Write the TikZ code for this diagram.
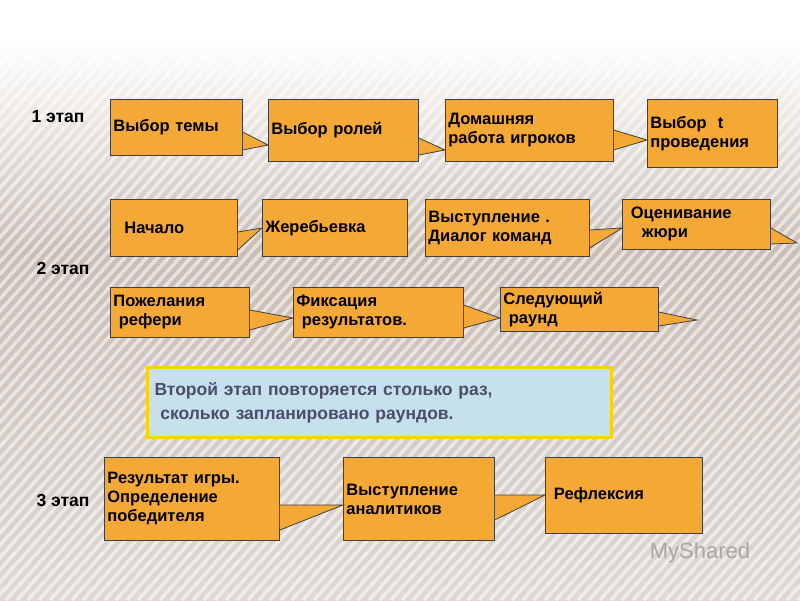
\documentclass[tikz,border=0pt]{standalone}
\usepackage{fontspec}
\setmainfont{Liberation Sans}
\begin{document}
\begin{tikzpicture}[x=1pt,y=-1pt,
  box/.style={draw=black!75,line width=0.8pt,fill=orgc,anchor=north west,align=left,inner xsep=3pt,font=\bfseries\fontsize{16.5}{19}\selectfont,text=black},
  lab/.style={font=\bfseries\fontsize{17.5}{20}\selectfont}]
\definecolor{orgc}{HTML}{F4A836}
\definecolor{bgc}{HTML}{C9BEB6}
\useasboundingbox (0,0) rectangle (800,600);
\fill[white] (0,0) rectangle (800,600);
\shade[top color=white,bottom color=bgc] (0,40) rectangle (800,250);
\shade[top color=bgc,bottom color=bgc!60!white] (0,250) rectangle (800,600);
\foreach \i in {0,11,...,1400} \draw[white,line width=3.5pt,opacity=0.55] (\i-500,600) -- (\i,40);
\fill[white,opacity=0.8] (0,0) rectangle (800,40);
\newcommand{\bx}[6]{\node[box,minimum width=#4-#2,minimum height=#5-#3,text width=#4-#2-6] (#1) at (#2,#3) {#6};}
\newcommand{\ptr}[5]{%
  \coordinate (t#1) at (#4.west |- 0,#5);
  \fill[orgc] (#1.east |- 0,#2) -- (t#1) -- (#1.east |- 0,#3) -- cycle;
  \draw[black!75,line width=0.8pt] (#1.east |- 0,#2) -- (t#1) -- (#1.east |- 0,#3);}
\bx{a1}{110}{99}{242}{155}{Выбор темы}
\bx{a2}{268}{99}{418}{161}{Выбор ролей\\[14pt]}
\bx{a3}{445}{99}{613}{161}{Домашняя\\работа игроков}
\bx{a4}{647}{99}{777}{167}{Выбор \ t\\проведения\\[10pt]}
\ptr{a1}{132}{150}{a2}{145}
\ptr{a2}{138}{155}{a3}{150}
\ptr{a3}{130}{150}{a4}{140}
\bx{b1}{110}{199}{237}{256}{\ \ Начало}
\bx{b2}{262}{199}{407}{256}{Жеребьевка\\[10pt]}
\bx{b3}{425}{199}{589}{256}{Выступление .\\Диалог команд}
\bx{b4}{622}{199}{770}{249}{\ Оценивание\\\ \ \ жюри}
\ptr{b1}{232}{250}{b2}{228}
\ptr{b3}{230}{248}{b4}{228}
\coordinate (e4) at (797,243);
\fill[orgc] (b4.east |- 0,228) -- (e4) -- (b4.east |- 0,244) -- cycle;
\draw[black!75,line width=0.8pt] (b4.east |- 0,228) -- (e4) -- (b4.east |- 0,244);
\bx{c1}{110}{287}{249}{337}{Пожелания\\\ рефери}
\bx{c2}{293}{287}{463}{337}{Фиксация\\\ результатов.}
\bx{c3}{500}{287}{658}{331}{Следующий\\\ раунд}
\ptr{c1}{310}{330}{c2}{318}
\ptr{c2}{305}{328}{c3}{318}
\coordinate (e3) at (697,320);
\fill[orgc] (c3.east |- 0,312) -- (e3) -- (c3.east |- 0,326) -- cycle;
\draw[black!75,line width=0.8pt] (c3.east |- 0,312) -- (e3) -- (c3.east |- 0,326);
\node[draw=yellow!70!orange,line width=3pt,fill=cyan!20!white!85!gray,anchor=north west,minimum width=464,minimum height=70,text width=450,align=left,font=\bfseries\fontsize{17.5}{24}\selectfont,text=black!70!blue!40!gray] (n) at (146,366) {Второй этап повторяется столько раз,\\\ сколько запланировано раундов.};
\bx{d1}{104}{457}{279}{540}{Результат игры.\\Определение\\победителя}
\bx{d2}{343}{457}{494}{540}{Выступление\\аналитиков}
\bx{d3}{545}{457}{702}{533}{\ Рефлексия\\[8pt]}
\ptr{d1}{505}{530}{d2}{505}
\ptr{d2}{495}{520}{d3}{495}
\node[lab] (l1) at (58,117) {1 этап};
\node[lab] (l2) at (63,268) {2 этап};
\node[lab] (l3) at (63,500) {3 этап};
\node[font=\fontsize{22}{24}\selectfont,text=gray!70] (w) at (700,553) {MyShared};
\end{tikzpicture}
\end{document}
